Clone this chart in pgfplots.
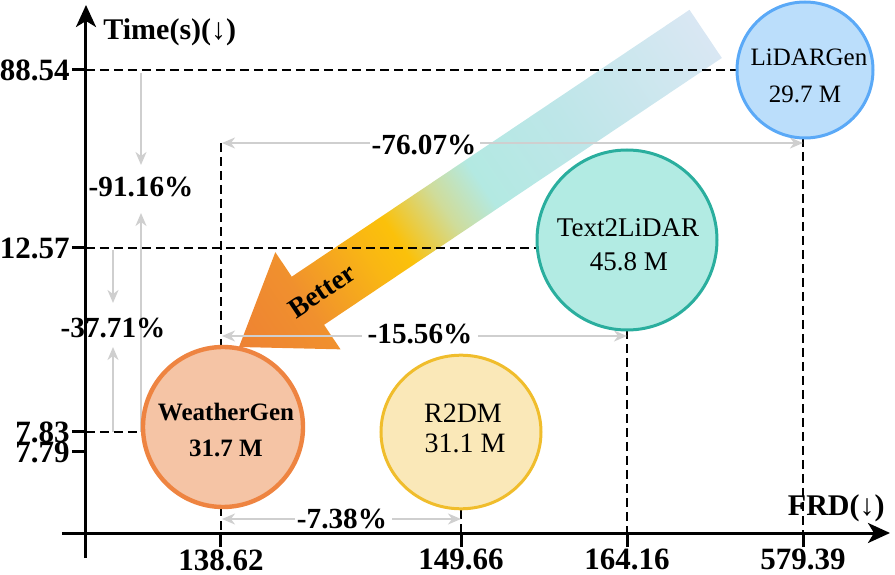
\documentclass[border=0pt]{standalone}
\usepackage{fontspec}
\setmainfont{Liberation Serif}
\usepackage{pgfplots}
\pgfplotsset{compat=1.18}
\usetikzlibrary{arrows.meta}

\definecolor{lidarfill}{HTML}{BBDEFB}
\definecolor{lidardraw}{HTML}{5AA9F7}
\definecolor{t2lfill}{HTML}{B2EBE3}
\definecolor{t2ldraw}{HTML}{2AAE9E}
\definecolor{wgfill}{HTML}{F5C4A5}
\definecolor{wgdraw}{HTML}{EE8441}
\definecolor{r2fill}{HTML}{FAE8B8}
\definecolor{r2draw}{HTML}{F0BD2C}
\definecolor{annot}{HTML}{CFCFCF}

\definecolor{b0}{HTML}{EE8233}
\definecolor{b1}{HTML}{F0902E}
\definecolor{b2}{HTML}{F9B614}
\definecolor{b3}{HTML}{FBC10A}
\definecolor{b4}{HTML}{CFDC9A}
\definecolor{b5}{HTML}{B3E9E2}
\definecolor{b6}{HTML}{BDE6E8}
\definecolor{b7}{HTML}{D9E7F3}
% the path's extent maps to 25bp..75bp of the shading
\pgfdeclarehorizontalshading{better}{100bp}{color(0bp)=(b0); color(25bp)=(b0); color(32bp)=(b1); color(39bp)=(b2); color(42bp)=(b3); color(47bp)=(b4); color(51bp)=(b5); color(60bp)=(b6); color(75bp)=(b7); color(100bp)=(b7)}

\pgfdeclarelayer{bg}
\pgfsetlayers{bg,main}

\begin{document}
\begin{tikzpicture}[
guide/.style={black, line width=0.75pt, dash pattern=on 4.5pt off 2.5pt},
gray arrow/.style={draw=annot, line width=1pt, -{Stealth[length=6.5pt,width=5.5pt,inset=2pt]}},
pct/.style={font=\fontsize{14.6}{14.6}\selectfont\bfseries, inner sep=0pt},
]
\begin{axis}[
x=0.5pt, y=0.5pt,
xmin=-24, xmax=804, ymin=-25, ymax=528,
axis lines=middle,
axis line style={line width=1.5pt, -{Stealth[length=11pt,width=10pt,inset=3pt]}},
xtick={135,375,541,717},
xticklabels={138.62,149.66,164.16,579.39},
ytick={81,101,285,463},
yticklabels={7.79,7.83,12.57,88.54},
tick align=outside,
major tick length=7pt,
tick style={line width=1.5pt, black},
/pgf/number format/assume math mode=true,
ticklabel style={font=\fontsize{15.5}{15.5}\selectfont\bfseries},
xticklabel style={inner sep=0pt, yshift=-1pt},
yticklabel style={inner sep=1pt},
clip=false,
]
\coordinate (ll) at (axis cs:-86,-41);
\coordinate (ur) at (axis cs:809,533);
\coordinate (tip) at (axis cs:153,186);

% guide lines from each model to the axes
\addplot[guide] coordinates {(0,463) (652,463)};
\addplot[guide] coordinates {(0,285) (452,285)};
\addplot[guide] coordinates {(0,101) (57,101)};
\addplot[guide] coordinates {(135,390) (135,186)};
\addplot[guide] coordinates {(135,26) (135,0)};
\addplot[guide] coordinates {(375,23) (375,0)};
\addplot[guide] coordinates {(541,203) (541,0)};
\addplot[guide] coordinates {(717,395) (717,0)};

% reduction arrows
\draw[gray arrow] (axis cs:55,460) -- (axis cs:55,368);
\draw[gray arrow] (axis cs:55,101) -- (axis cs:55,320);
\node[pct] at (axis cs:55,346) {-91.16\%};
\draw[gray arrow] (axis cs:27,283) -- (axis cs:27,230);
\draw[gray arrow] (axis cs:27,101) -- (axis cs:27,186);
\node[pct] at (axis cs:27,205) {-37.71\%};
\draw[gray arrow] (axis cs:284,390) -- (axis cs:136,390);
\draw[gray arrow] (axis cs:394,390) -- (axis cs:717,390);
\node[pct] at (axis cs:338,388) {-76.07\%};
\draw[gray arrow] (axis cs:276,197) -- (axis cs:136,197);
\draw[gray arrow] (axis cs:392,197) -- (axis cs:541,197);
\node[pct] at (axis cs:334,199) {-15.56\%};
\draw[gray arrow] (axis cs:209,14) -- (axis cs:136,14);
\draw[gray arrow] (axis cs:306,14) -- (axis cs:375,14);
\node[pct] at (axis cs:256,14) {-7.38\%};

% bubbles
\addplot[only marks, mark=*, mark size=34pt, mark options={fill=lidarfill, draw=lidardraw, line width=1.5pt}] coordinates {(719,463)};
\addplot[only marks, mark=*, mark size=45pt, mark options={fill=t2lfill, draw=t2ldraw, line width=1.5pt}] coordinates {(541,293)};
\addplot[only marks, mark=*, mark size=40pt, mark options={fill=r2fill, draw=r2draw, line width=1.5pt, yscale=0.96}] coordinates {(375,101)};
\addplot[only marks, mark=*, mark size=40pt, mark options={fill=wgfill, draw=wgdraw, line width=2.2pt}] coordinates {(137,106)};

\coordinate (lg1) at (axis cs:723,476);
\coordinate (lg2) at (axis cs:719,439);
\coordinate (tl1) at (axis cs:542,305);
\coordinate (tl2) at (axis cs:543,271);
\coordinate (rd1) at (axis cs:377,120);
\coordinate (rd2) at (axis cs:379,90);
\coordinate (wg1) at (axis cs:140,121);
\coordinate (wg2) at (axis cs:140,85);
\coordinate (bt) at (axis cs:236,242);
\coordinate (ty) at (axis cs:17,501);
\coordinate (fx) at (axis cs:799,25);
\end{axis}

\begin{pgfonlayer}{bg}
\begin{scope}[transform canvas={shift={(tip)}, rotate=33.86}]
\shade[shading=better] (0,0) -- (41.5pt,29.25pt) -- (41.5pt,14.5pt) -- (281pt,14.5pt) -- (281pt,-14.5pt) -- (41.5pt,-14.5pt) -- (41.5pt,-29.25pt) -- cycle;
\end{scope}
\end{pgfonlayer}

\node[font=\fontsize{12.5}{12.5}\selectfont] at (lg1) {LiDARGen};
\node[font=\fontsize{12.5}{12.5}\selectfont] at (lg2) {29.7 M};
\node[font=\fontsize{13.5}{13.5}\selectfont] at (tl1) {Text2LiDAR};
\node[font=\fontsize{13.5}{13.5}\selectfont] at (tl2) {45.8 M};
\node[font=\fontsize{14}{14}\selectfont] at (rd1) {R2DM};
\node[font=\fontsize{14}{14}\selectfont] at (rd2) {31.1 M};
\node[font=\fontsize{12.5}{12.5}\selectfont\bfseries] at (wg1) {WeatherGen};
\node[font=\fontsize{12.5}{12.5}\selectfont\bfseries] at (wg2) {31.7 M};
\node[font=\fontsize{14}{14}\selectfont\bfseries, rotate=33.86] at (bt) {Better};
\node[anchor=west, font=\fontsize{15}{15}\selectfont\bfseries, inner sep=0pt] at (ty) {Time(s)(↓)};
\node[anchor=east, font=\fontsize{15}{15}\selectfont\bfseries, inner sep=0pt] at (fx) {FRD(↓)};

\pgfresetboundingbox
\useasboundingbox (ll) rectangle (ur);
\end{tikzpicture}
\end{document}
